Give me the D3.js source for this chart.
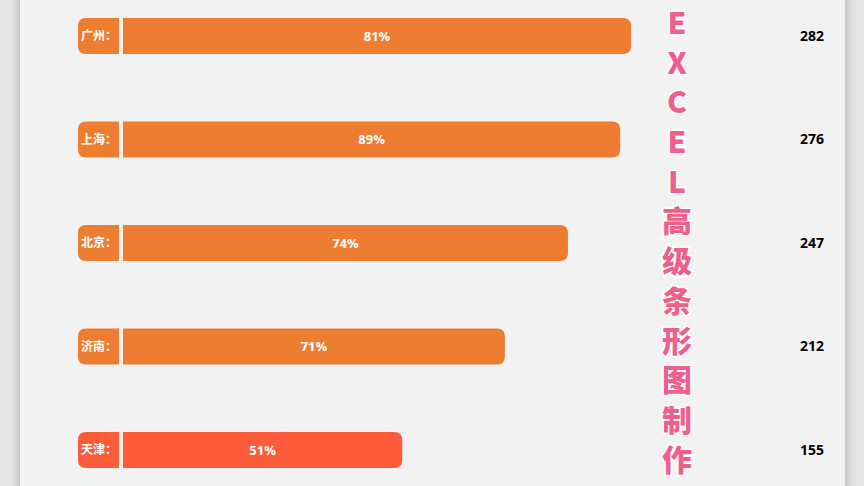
<!DOCTYPE html>
<html><head><meta charset="utf-8">
<script src="https://cdn.jsdelivr.net/npm/d3@7"></script>
<style>body{margin:0;background:#e6e6e6;}svg{display:block;}</style>
</head><body>
<svg id="chart" width="864" height="486"></svg>
<script>
const cities = ['广州', '上海', '北京', '济南', '天津'];
const totals = [282, 276, 247, 212, 155];
const rates = ['81%', '89%', '74%', '71%', '51%'];
const titleChars = ['E', 'X', 'C', 'E', 'L', '高', '级', '条', '形', '图', '制', '作'];

const svg = d3.select('#chart');
const defs = svg.append('defs');
const f = defs.append('filter').attr('id', 'sh').attr('x', '-5%').attr('width', '110%');
f.append('feDropShadow').attr('dx', 0).attr('dy', 0).attr('stdDeviation', 6).attr('flood-opacity', 0.3);

svg.append('rect').attr('x', 20).attr('y', -10).attr('width', 825).attr('height', 506)
	.attr('fill', '#f2f2f2').attr('filter', 'url(#sh)');

const x = d3.scaleLinear().domain([0, 282]).range([123, 631]);
const y = d3.scaleBand().domain(cities).range([18, 468]).paddingInner(0.652).paddingOuter(0);

// rounded on one side
function sidePath(x0, x1, y0, h, r, roundLeft) {
	if (roundLeft) {
		return `M${x1},${y0}H${x0 + r}Q${x0},${y0} ${x0},${y0 + r}V${y0 + h - r}Q${x0},${y0 + h} ${x0 + r},${y0 + h}H${x1}Z`;
	}
	return `M${x0},${y0}H${x1 - r}Q${x1},${y0} ${x1},${y0 + r}V${y0 + h - r}Q${x1},${y0 + h} ${x1 - r},${y0 + h}H${x0}Z`;
}

const color = (d, i) => i === cities.length - 1 ? '#fe5b3a' : '#ed7d31';
const g = svg.selectAll('g.row').data(cities).enter().append('g').attr('class', 'row');

g.append('path').attr('fill', color)
	.attr('d', d => sidePath(78, 119, y(d), y.bandwidth(), 8, true));
g.append('path').attr('fill', color)
	.attr('d', (d, i) => sidePath(123, x(totals[i]), y(d), y.bandwidth(), 8, false));
g.append('text').attr('x', 81).attr('y', d => y(d) + y.bandwidth() / 2)
	.attr('dy', '0.35em').attr('fill', '#fff').attr('font-size', 12).attr('font-weight', 'bold')
	.attr('font-family', 'Noto Sans CJK SC').text(d => d + '：');
g.append('text').attr('x', (d, i) => (123 + x(totals[i])) / 2).attr('y', d => y(d) + y.bandwidth() / 2)
	.attr('dy', '0.35em').attr('text-anchor', 'middle').attr('fill', '#fff').attr('font-size', 13)
	.attr('font-weight', 'bold').attr('font-family', 'Open Sans').text((d, i) => rates[i]);
g.append('text').attr('x', 824).attr('y', d => y(d) + y.bandwidth() / 2)
	.attr('dy', '0.35em').attr('text-anchor', 'end').attr('fill', '#000').attr('font-size', 14)
	.attr('font-weight', 'bold').attr('font-family', 'Open Sans').text((d, i) => totals[i]);

const ty = d3.scalePoint().domain(d3.range(titleChars.length)).range([23, 460]);
svg.selectAll('text.title').data(titleChars).enter().append('text').attr('class', 'title')
	.attr('x', 677).attr('y', (d, i) => ty(i)).attr('dy', '0.36em').attr('text-anchor', 'middle')
	.attr('font-family', 'Noto Sans CJK SC').attr('font-weight', 900).attr('font-size', 30)
	.attr('fill', '#ef5f8b').attr('stroke', '#fff').attr('stroke-width', 3).attr('paint-order', 'stroke')
	.text(d => d);
</script>
</body></html>
